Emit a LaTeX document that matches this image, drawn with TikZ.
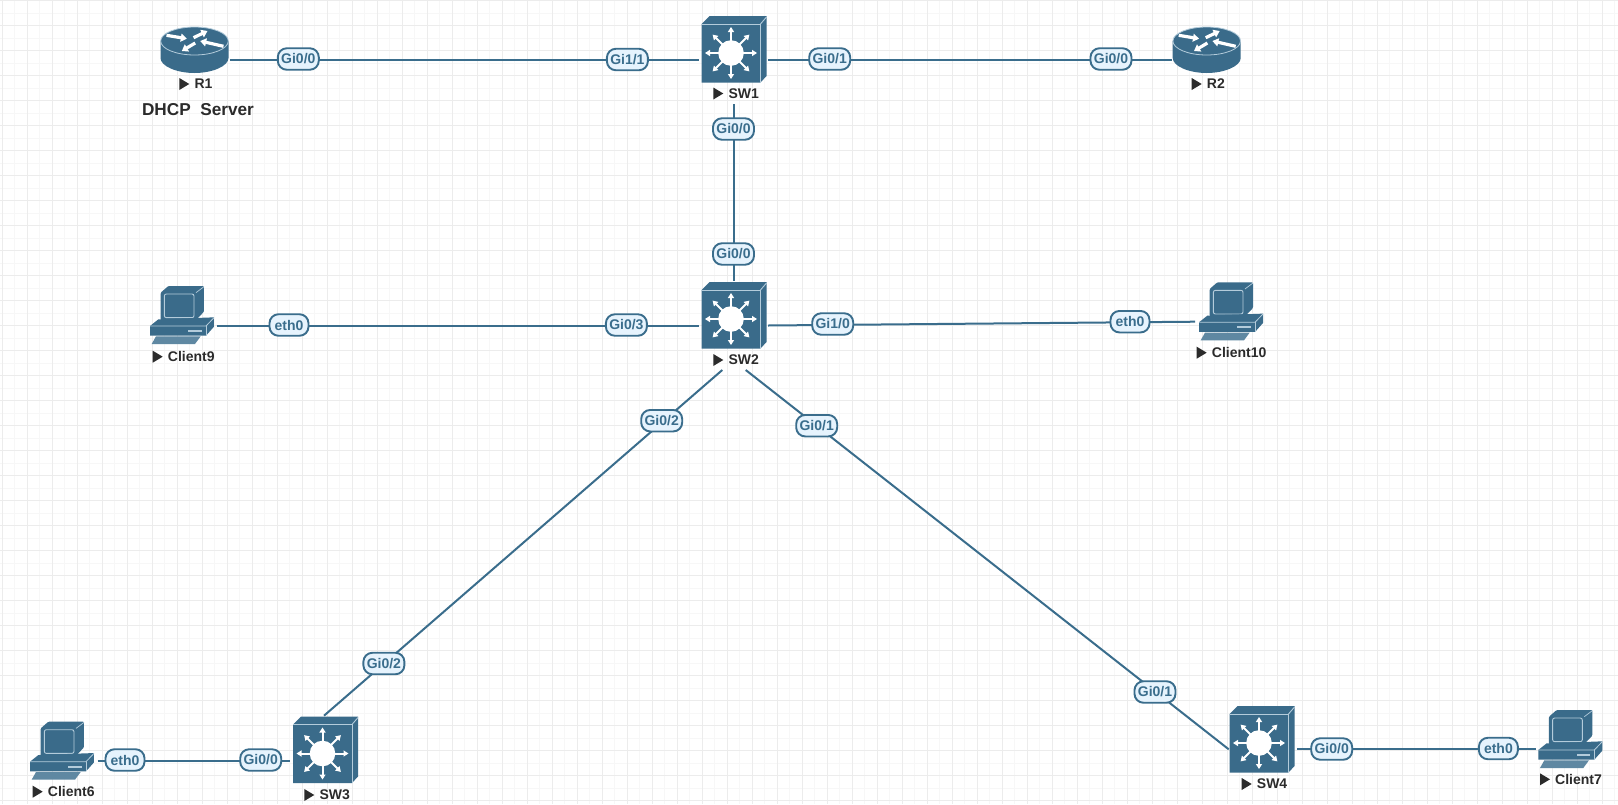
\documentclass[tikz,border=0pt]{standalone}
\usepackage{fontspec}
\setmainfont{Liberation Sans}
\usetikzlibrary{arrows.meta}
\definecolor{dev}{HTML}{3A6B8A}
\definecolor{devlight}{HTML}{B4CCDB}
\definecolor{link}{HTML}{3A6D8C}
\definecolor{pillfill}{HTML}{E6F3FD}
\definecolor{gridmaj}{HTML}{ECECEC}
\definecolor{gridmin}{HTML}{F7F7F7}
\definecolor{ink}{HTML}{2B2B2B}
\tikzset{
  x=1pt,y=-1pt,
  anchorbox/.style={inner sep=0pt,outer sep=0pt,minimum width=#1},
  wire/.style={draw=link,line width=2pt},
  pill/.style={draw=link,line width=1.9pt,fill=pillfill,rounded corners=9pt,text=link,
    font=\fontsize{14}{15}\selectfont\bfseries,inner sep=0pt,minimum height=21.5pt,minimum width=41pt},
  devname/.style={text=ink,font=\fontsize{14}{15}\selectfont\bfseries,inner sep=0pt,anchor=west},
  ray/.style={draw=white,line width=2pt,-{Triangle[width=6pt,length=5pt]}},
  rtarrow/.style={draw=white,line width=3.2pt,-{Triangle[width=8pt,length=6pt]}},
  pics/router/.style={code={
    \fill[dev] (-34,0) -- (-34,17) .. controls (-34,25) and (-18,32) .. (0,32) .. controls (18,32) and (34,25) .. (34,17) -- (34,0) -- cycle;
    \draw[devlight,line width=0.8pt,fill=dev] (0,0) ellipse[x radius=33.8,y radius=14];
    \draw[rtarrow] (-28,-5.7) -- (-7.7,-2.3);
    \draw[rtarrow] (-1,-3.3) -- (13,-10);
    \draw[rtarrow] (0.7,2) -- (-12.7,10);
    \draw[rtarrow] (29,5.3) -- (5.7,0);
  }},
  pics/mlswitch/.style={code={
    \fill[dev] (-29.5,-29) -- (-21.5,-37) -- (35.5,-37) -- (35.5,23) -- (29.5,29.5) -- (-29.5,29.5) -- cycle;
    \draw[devlight,line width=0.9pt] (-29.5,-29) -- (29.5,-29) -- (29.5,29.5);
    \draw[devlight,line width=0.9pt] (29.5,-29) -- (35.5,-36);
    \fill[white] (0,0) circle[radius=12.8];
    \foreach \a in {0,45,...,315}{
      \draw[ray] (\a:10) -- (\a:26);
    }
  }},
  pics/pc/.style={code={
    \begin{scope}[x=0.3333pt,y=-0.3333pt,shift={(-157.5,-135)}]
      \fill[dev,rounded corners=1pt] (92,68) -- (115,48) -- (222,48) -- (222,125) -- (198,150) -- (92,150) -- cycle;
      \draw[devlight,line width=0.9pt,rounded corners=2pt] (103,72) rectangle (192,143);
      \draw[devlight,line width=0.7pt] (198,68) -- (222,50);
      \fill[dev] (60,168) -- (85,148) -- (252,142) -- (252,170) -- (228,197) -- (60,197) -- cycle;
      \draw[devlight,line width=0.8pt] (60,168) -- (228,168) -- (252,143);
      \draw[devlight,line width=0.8pt] (228,168) -- (228,197);
      \fill[devlight] (175,180) rectangle (215,186);
      \fill[dev!70!devlight] (78,199) -- (212,199) -- (195,222) -- (65,222) -- cycle;
    \end{scope}
  }},
}
\newcommand{\devlabel}[4]{%
  \fill[ink] (#2,#3-6) -- (#2+10,#3) -- (#2,#3+6) -- cycle;
  \node[devname] (#1) at (#2+15,#3) {#4};
}
\begin{document}
\begin{tikzpicture}
\useasboundingbox (0,0) rectangle (1618,804);
\fill[white] (0,0) rectangle (1618,804);
% grid
\foreach \i in {0,...,64}{
  \draw[gridmin,line width=1pt] ({14.5+25*\i},0) -- ({14.5+25*\i},804);
}
\foreach \j in {0,...,32}{
  \draw[gridmin,line width=1pt] (0,{13+25*\j}) -- (1618,{13+25*\j});
}
\foreach \i in {0,...,64}{
  \draw[gridmaj,line width=1pt] ({2+25*\i},0) -- ({2+25*\i},804);
}
\foreach \j in {0,...,32}{
  \draw[gridmaj,line width=1pt] (0,{0.5+25*\j}) -- (1618,{0.5+25*\j});
}
% device anchor boxes
\node[anchorbox=70pt,minimum height=30pt] (R1) at (194.5,59.5) {};
\node[anchorbox=70pt,minimum height=30pt] (R2) at (1206.7,59.5) {};
\node[anchorbox=69pt,minimum height=89pt] (SW1) at (733.5,59.5) {};
\node[anchorbox=69pt,minimum height=89pt] (SW2) at (733.5,325.5) {};
\node[anchorbox=68pt,minimum height=90pt] (SW3) at (324,760.7) {};
\node[anchorbox=68.6pt,minimum height=60pt] (SW4) at (1263,749.3) {};
\node[anchorbox=68pt,minimum height=30pt] (C9) at (182.5,325.5) {};
\node[anchorbox=72pt,minimum height=30pt] (C10) at (1231,321.7) {};
\node[anchorbox=70pt,minimum height=30pt] (C6) at (62.5,760.7) {};
\node[anchorbox=70pt,minimum height=30pt] (C7) at (1570.7,749.3) {};
% connectors
\draw[wire] (R1.east) -- (SW1.west);
\draw[wire] (SW1.east) -- (R2.west);
\draw[wire] (SW1.south) -- (SW2.north);
\draw[wire] (C9.east) -- (SW2.west);
\draw[wire] (SW2.east) -- (C10.west);
\draw[wire] ([xshift=-11.2pt]SW2.south) -- (SW3.north);
\draw[wire] ([xshift=12.2pt]SW2.south) -- (SW4.west);
\draw[wire] (C6.east) -- (SW3.west);
\draw[wire] (SW4.east) -- (C7.west);
% devices
\pic at (194.5,41) {router};
\pic at (1206.7,41) {router};
\pic at (731,53) {mlswitch};
\pic at (731,319) {mlswitch};
\pic at (322.5,753.5) {mlswitch};
\pic at (1259,743) {mlswitch};
\pic at (182.5,315) {pc};
\pic at (1231.5,311.3) {pc};
\pic at (62.5,750.7) {pc};
\pic at (1570.8,739) {pc};
% interface pills
\node[pill] (p1) at (298.3,59) {Gi0/0};
\node[pill] (p2) at (627.4,59.5) {Gi1/1};
\node[pill] (p3) at (829.7,59) {Gi0/1};
\node[pill] (p4) at (1111,59) {Gi0/0};
\node[pill] (p5) at (733.5,129) {Gi0/0};
\node[pill] (p6) at (733.5,254) {Gi0/0};
\node[pill,minimum width=39pt] (p7) at (289,325) {eth0};
\node[pill] (p8) at (626.4,325) {Gi0/3};
\node[pill] (p9) at (832.7,324) {Gi1/0};
\node[pill,minimum width=39pt] (p10) at (1130,321.7) {eth0};
\node[pill] (p11) at (661.7,420.7) {Gi0/2};
\node[pill] (p12) at (816.7,425.7) {Gi0/1};
\node[pill] (p13) at (383.9,663.5) {Gi0/2};
\node[pill] (p14) at (1155,692) {Gi0/1};
\node[pill,minimum width=39pt] (p15) at (125,760) {eth0};
\node[pill] (p16) at (260.7,760) {Gi0/0};
\node[pill] (p17) at (1331.7,749) {Gi0/0};
\node[pill,minimum width=39pt] (p18) at (1498.4,748.5) {eth0};
% device names
\devlabel{nR1}{179.3}{84}{R1}
\devlabel{nR2}{1191.7}{84}{R2}
\devlabel{nSW1}{713.3}{93.5}{SW1}
\devlabel{nSW2}{713.3}{360}{SW2}
\devlabel{nC9}{152.7}{356.7}{Client9}
\devlabel{nC10}{1196.7}{352.7}{Client10}
\devlabel{nC6}{32.7}{791.7}{Client6}
\devlabel{nSW3}{304.3}{795}{SW3}
\devlabel{nSW4}{1241.7}{784}{SW4}
\devlabel{nC7}{1540}{779.3}{Client7}
\node[text=ink,font=\fontsize{17.2}{18}\selectfont\bfseries,inner sep=0pt] (dhcp) at (198,109.5) {DHCP\ \ Server};
\end{tikzpicture}
\end{document}
